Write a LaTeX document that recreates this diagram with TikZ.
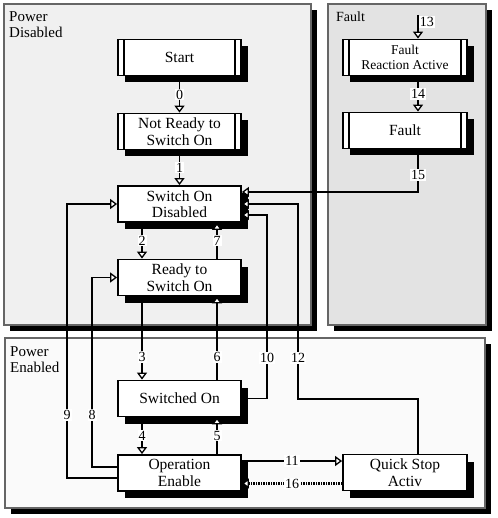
\documentclass[tikz,border=0pt]{standalone}
\usepackage{fontspec}
\setmainfont{Liberation Serif}
\tikzstyle{box}=[draw,line width=1.8pt,fill=white,minimum width=123pt,minimum height=36pt,inner sep=1pt,align=center,font=\fontsize{15.5}{16.5}\selectfont,general shadow={fill=black,shadow xshift=7pt,shadow yshift=-7pt}]
\tikzstyle{panel}=[draw=black!60,line width=1.2pt,general shadow={fill=black,shadow xshift=6pt,shadow yshift=-6pt}]
\newcommand{\stnode}[4]{\node[box,#4] (#1) at (#2) {#3};}
\usetikzlibrary{arrows.meta,shadows}
\tikzset{
	dbl/.style={path picture={\draw[line width=1.5pt] ([xshift=6pt]path picture bounding box.north west) -- ([xshift=6pt]path picture bounding box.south west) ([xshift=-6pt]path picture bounding box.north east) -- ([xshift=-6pt]path picture bounding box.south east);}},
	tr/.style={line width=1.5pt,->},
	dotline/.style={line width=2.5pt,dash pattern=on 1.5pt off 1pt},
	lbl/.style={fill=white,inner sep=1pt,font=\fontsize{14}{14}\selectfont},
	grp/.style={anchor=north west,align=left,inner sep=0pt,font=\fontsize{15}{16}\selectfont},
}

\begin{document}
\begin{tikzpicture}[x=1pt,y=-1pt,>={Triangle[fill=white,width=10pt,length=7pt,line width=1.3pt]}]
	\useasboundingbox (0,0) rectangle (497,518);

	\draw[panel,fill=black!6] (4,4) rectangle (311,325);
	\draw[panel,fill=black!11] (328,4) rectangle (486,325);
	\draw[panel,fill=black!2] (5,338) rectangle (485,508);
	\node[grp] (pdis) at (9,11) {Power\\Disabled};
	\node[grp,font=\fontsize{14}{15}\selectfont] (pflt) at (336,12) {Fault};
	\node[grp] (pena) at (10,346) {Power\\Enabled};

	\stnode{start}{179.5,57.5}{Start}{dbl}
	\stnode{notready}{179.5,131.5}{Not Ready to\\Switch On}{dbl}
	\stnode{sod}{179.5,204}{Switch On\\Disabled}{}
	\stnode{rtso}{179.5,277.5}{Ready to\\Switch On}{}
	\stnode{swon}{179.5,398.5}{Switched On}{}
	\stnode{opena}{179.5,473}{Operation\\Enable}{}
	\stnode{qsa}{405,472.5}{Quick Stop\\Activ}{minimum width=124pt}
	\stnode{fra}{405,57.5}{Fault\\Reaction Active}{dbl,minimum width=124pt,font=\fontsize{13.5}{15}\selectfont}
	\stnode{fault}{405,130.5}{Fault}{dbl,minimum width=124pt}

	\coordinate (in13) at (418,15);

	\draw[tr] (start) -- node[lbl] (t0) {0} (notready);
	\draw[tr] (notready) -- node[lbl] (t1) {1} (sod);
	\draw[tr] ([xshift=-37.5pt]sod.south) -- node[lbl] (t2) {2} ([xshift=-37.5pt]rtso.north);
	\draw[tr] ([xshift=37.5pt]rtso.north) -- node[lbl] (t7) {7} ([xshift=37.5pt]sod.south);
	\draw[tr] ([xshift=-37.5pt]rtso.south) -- node[lbl,pos=0.73] (t3) {3} ([xshift=-37.5pt]swon.north);
	\draw[tr] ([xshift=37.5pt]swon.north) -- node[lbl,pos=0.27] (t6) {6} ([xshift=37.5pt]rtso.south);
	\draw[tr] ([xshift=-37.5pt]swon.south) -- node[lbl] (t4) {4} ([xshift=-37.5pt]opena.north);
	\draw[tr] ([xshift=37.5pt]opena.north) -- node[lbl] (t5) {5} ([xshift=37.5pt]swon.south);
	\draw[tr] ([yshift=-5pt]opena.west) -| (67,415) node[lbl] (t9) {9} |- (sod.west);
	\draw[tr] ([yshift=6pt]opena.west) -| (92,415) node[lbl] (t8) {8} |- (rtso.west);
	\draw[tr] (swon.east) -| (267,358) node[lbl] (t10) {10} |- ([yshift=-11pt]sod.east);
	\draw[tr] ([xshift=13pt]qsa.north) |- (298,399) -- (298,358) node[lbl] (t12) {12} |- (sod.east);
	\draw[tr] ([xshift=13pt]fault.south) -- (418,175) node[lbl] (t15) {15} |- ([yshift=12pt]sod.east);
	\draw[tr] (in13) -- node[lbl,right,pos=0.3] (t13) {13} ([xshift=13pt]fra.north);
	\draw[tr] ([xshift=13pt]fra.south) -- node[lbl] (t14) {14} ([xshift=13pt]fault.north);
	\draw[tr] ([yshift=12pt]opena.east) -- node[lbl] (t11) {11} ([yshift=12pt]opena.east -| qsa.west);
	\draw[tr,dotline] ([yshift=-11pt]qsa.west) -- node[lbl] (t16) {16} ([yshift=-11pt]qsa.west -| opena.east);
\end{tikzpicture}
\end{document}
